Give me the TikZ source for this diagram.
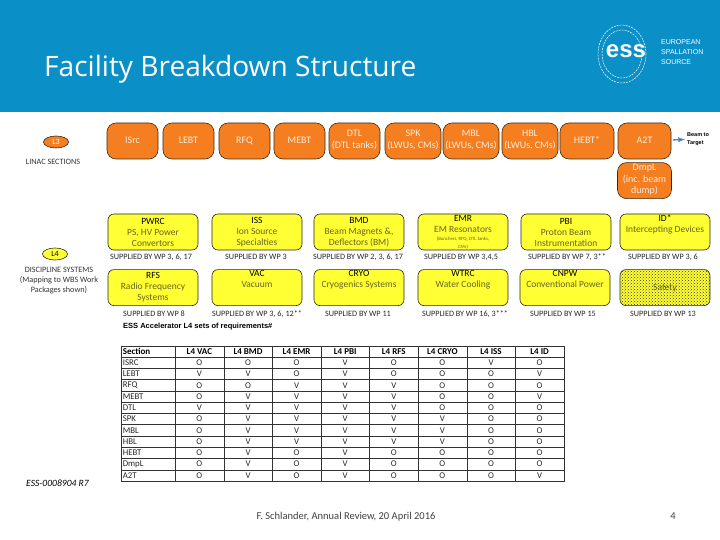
\documentclass[tikz,border=0pt]{standalone}
\usepackage{fontspec}
\setmainfont{Carlito}
\newfontfamily\titlefont{Open Sans}
\newfontfamily\notefont{Liberation Sans}
\usetikzlibrary{positioning,shapes.geometric,patterns,calc}
\definecolor{essblue}{HTML}{0A8FC6}
\definecolor{essorange}{HTML}{F57F20}
\definecolor{essyellow}{HTML}{FFFF33}
\definecolor{essolive}{HTML}{66661C}
\definecolor{essedge}{HTML}{3A2A14}
\definecolor{essarrow}{HTML}{4F81BD}
\tikzset{
    sectionbox/.style={draw=essedge,semithick,fill=essorange,rounded corners=9pt,minimum width=#1,minimum height=36pt,
        inner sep=0pt,align=center,text=white!85!essorange,font=\fontsize{10}{11.5}\selectfont,execute at begin node=\strut},
    sectionbox/.default=51pt,
    systembox/.style={draw=black!85,semithick,fill=essyellow,rounded corners=6pt,minimum width=90pt,minimum height=36pt,
        inner sep=0pt,align=center,text=essolive,font=\fontsize{9.5}{11}\selectfont},
    supplied/.style={inner sep=0pt,text height=6pt,text depth=1pt,text=black!85,font=\fontsize{8.2}{9}\selectfont},
    sidetext/.style={inner sep=0pt,align=center,text=black!80,font=\fontsize{8.2}{10}\selectfont},
    levelmark/.style={ellipse,draw=black!85,semithick,minimum width=25pt,minimum height=12pt,inner sep=0pt,
        font=\fontsize{8}{9}\selectfont},
    tablecell/.style={draw=black!80,minimum width=48.6pt,minimum height=11.27pt,inner sep=0pt,
        text=black!85,font=\fontsize{8.8}{9}\selectfont},
    tablehead/.style={tablecell,text=black,font=\fontsize{9}{9}\selectfont\bfseries},
    logoline/.style={white,line width=.5pt,dash pattern=on 2pt off 1pt}
}
\newcommand{\boxhead}[1]{\textcolor{black}{#1}}
\begin{document}
\begin{tikzpicture}[x=1pt,y=-1pt]
    \useasboundingbox (0,0) rectangle (720,540);
    % Header band
    \fill[essblue] (0,0) rectangle (720,112);
    \node[inner sep=0pt,anchor=west,text=white,font=\titlefont\fontsize{28.1}{32}\selectfont] (title) at (44,69.5) {Facility Breakdown Structure};
    \draw[logoline] (622,54) ellipse [x radius=24pt,y radius=29pt];
    \draw[logoline] (622,54) ellipse [x radius=20pt,y radius=24pt];
    \node[inner sep=0pt,text=white,font=\notefont\bfseries\fontsize{24}{24}\selectfont] (logo) at (626,51) {ess};
    \node[inner sep=0pt,anchor=west,align=left,text=white,font=\notefont\fontsize{7}{10}\selectfont] (source) at (661,52) {EUROPEAN\\SPALLATION\\SOURCE};

    % Define nodes
    \node[levelmark,fill=essorange,text=white] (L3) at (56,142) {L3};
    \node[sidetext] (L3text) at (53,162) {LINAC SECTIONS};
    \node[levelmark,fill=essyellow,text=black] (L4) at (55,254) {L4};
    \node[sidetext] (L4text) at (59,281) {DISCIPLINE SYSTEMS\\(Mapping to WBS Work\\Packages shown)};

    \node[sectionbox] (ISrc) at (132.5,141) {ISrc};
    \node[sectionbox,right=4.4pt of ISrc] (LEBT) {LEBT};
    \node[sectionbox,right=4.4pt of LEBT] (RFQ) {RFQ};
    \node[sectionbox,right=3.4pt of RFQ] (MEBT) {MEBT};
    \node[sectionbox,right=3.4pt of MEBT] (DTL) {DTL\\(DTL tanks)};
    \node[sectionbox=56pt,right=4.4pt of DTL] (SPK) {SPK\\(LWUs, CMs)};
    \node[sectionbox=56pt,right=1.4pt of SPK] (MBL) {MBL\\(LWUs, CMs)};
    \node[sectionbox=56pt,right=2.4pt of MBL] (HBL) {HBL\\(LWUs, CMs)};
    \node[sectionbox=54pt,right=1.4pt of HBL] (HEBT) {HEBT*};
    \node[sectionbox=53pt,right=3.4pt of HEBT] (A2T) {A2T};
    \node[sectionbox=54pt,below=3pt of A2T] (DmpL) {DmpL\\(inc. beam\\dump)};
    \node[inner sep=0pt,anchor=west,align=left,text=black,font=\notefont\bfseries\fontsize{5.5}{8}\selectfont] (target) at (687,139) {Beam to\\Target};

    \node[systembox] (PWRC) at (153,232) {\boxhead{PWRC}\\PS, HV Power\\Convertors};
    \node[systembox,right=13.4pt of PWRC] (ISS) {\boxhead{ISS}\\Ion Source\\Specialties};
    \node[systembox,right=11.4pt of ISS] (BMD) {\boxhead{BMD}\\Beam Magnets \&,\\Deflectors (BM)};
    \node[systembox,right=13.4pt of BMD] (EMR) {\boxhead{EMR}\\EM Resonators\\[-3pt]{\fontsize{4.8}{6}\selectfont (Bunchers, RFQ, DTL tanks,}\\[-3pt]{\fontsize{4.8}{6}\selectfont CMs)}};
    \node[systembox,right=12.4pt of EMR] (PBI) {\boxhead{PBI}\\Proton Beam\\Instrumentation};
    \node[systembox,right=8.4pt of PBI] (ID) {\boxhead{ID*}\\Intercepting Devices\\[6pt]};

    \node[systembox,below=19pt of PWRC] (RFS) {\boxhead{RFS}\\Radio Frequency\\Systems};
    \node[systembox,below=19pt of ISS] (VAC) {\boxhead{VAC}\\Vacuum\\[6pt]};
    \node[systembox,below=19pt of BMD] (CRYO) {\boxhead{CRYO}\\Cryogenics Systems\\[6pt]};
    \node[systembox,below=19pt of EMR] (WTRC) {\boxhead{WTRC}\\Water Cooling\\[6pt]};
    \node[systembox,below=19pt of PBI,xshift=-1pt] (CNPW) {\boxhead{CNPW}\\Conventional Power\\[6pt]};
    \node[systembox,below=19pt of ID,preaction={fill=essyellow},pattern=crosshatch dots,pattern color=black!80] (Safety) {Safety};

    \node[supplied,below=2.5pt of PWRC,xshift=-2pt] (supPWRC) {SUPPLIED BY WP 3, 6, 17};
    \node[supplied,below=2.5pt of ISS,xshift=-1pt] (supISS) {SUPPLIED BY WP 3};
    \node[supplied,below=2.5pt of BMD,xshift=-1pt] (supBMD) {SUPPLIED BY WP 2, 3, 6, 17};
    \node[supplied,below=2.5pt of EMR,xshift=-2pt] (supEMR) {SUPPLIED BY WP 3,4,5};
    \node[supplied,below=2.5pt of PBI,xshift=1pt] (supPBI) {SUPPLIED BY WP 7, 3**};
    \node[supplied,below=2.5pt of ID,xshift=-2pt] (supID) {SUPPLIED BY WP 3, 6};

    \node[supplied,below=4pt of RFS,xshift=1pt] (supRFS) {SUPPLIED BY WP 8};
    \node[supplied,below=4pt of VAC] (supVAC) {SUPPLIED BY WP 3, 6, 12**};
    \node[supplied,below=4pt of CRYO,xshift=-1pt] (supCRYO) {SUPPLIED BY WP 11};
    \node[supplied,below=4pt of WTRC,xshift=2pt] (supWTRC) {SUPPLIED BY WP 16, 3***};
    \node[supplied,below=4pt of CNPW,xshift=-2pt] (supCNPW) {SUPPLIED BY WP 15};
    \node[supplied,below=4pt of Safety,xshift=-2pt] (supSafety) {SUPPLIED BY WP 13};

    \node[inner sep=0pt,anchor=west,text=black,font=\notefont\bfseries\fontsize{7.5}{8}\selectfont] (tabletitle) at (123,327) {ESS Accelerator L4 sets of requirements\#};

    % Table of requirements
    \node[tablehead,minimum width=54.4pt,anchor=west,inner xsep=2pt,text width=50.4pt,align=left] (Hsec) at (120.6,351.4) {Section};
    \foreach \head [count=\c] in {VAC,BMD,EMR,PBI,RFS,CRYO,ISS,ID} {
        \node[tablehead] (H\c) at ({199.4+48.6*(\c-1)},351.4) {L4 \head};
    }
    \foreach \sname/\vals [count=\r] in {%
        ISRC/{O,O,O,V,O,O,V,O},
        LEBT/{V,V,O,V,O,O,O,V},
        RFQ/{O,O,V,V,V,O,O,O},
        MEBT/{O,V,V,V,V,O,O,V},
        DTL/{V,V,V,V,V,O,O,O},
        SPK/{O,V,V,V,V,V,O,O},
        MBL/{O,V,V,V,V,V,O,O},
        HBL/{O,V,V,V,V,V,O,O},
        HEBT/{O,V,O,V,O,O,O,O},
        DmpL/{O,V,O,V,O,O,O,O},
        A2T/{O,V,O,V,O,O,O,V}} {
        \node[tablecell,minimum width=54.4pt,anchor=west,inner xsep=2pt,text width=50.4pt,align=left] (R\r) at (120.6,{351.4+11.27*\r}) {\sname};
        \foreach \val [count=\c] in \vals {
            \node[tablecell] (R\r C\c) at ({199.4+48.6*(\c-1)},{351.4+11.27*\r}) {\val};
        }
    }

    \node[inner sep=0pt,anchor=west,text=black,font=\itshape\fontsize{9.6}{10}\selectfont] (docref) at (26,483) {ESS-0008904 R7};
    \node[inner sep=0pt,text=black!75,font=\fontsize{10.5}{12}\selectfont] (footer) at (346,516.5) {F. Schlander, Annual Review, 20 April 2016};
    \node[inner sep=0pt,text=black!75,font=\fontsize{10.5}{12}\selectfont] (pagenum) at (673,516) {4};

    % Draw arrows
    \draw[-latex,essarrow,line width=1.3pt,shorten >=2pt,shorten <=1.5pt] (A2T) -- (target);
\end{tikzpicture}
\end{document}
